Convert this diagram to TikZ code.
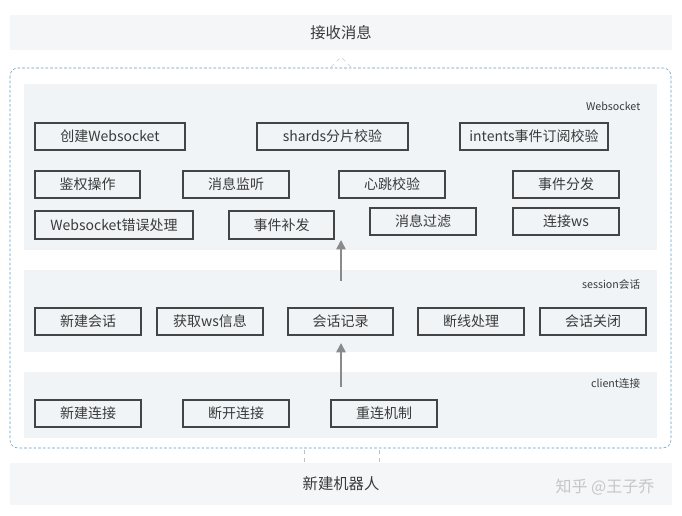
\documentclass[tikz,border=0pt]{standalone}
\usepackage{fontspec}
\setmainfont{Noto Sans CJK SC}
\usetikzlibrary{arrows.meta}
\begin{document}
\begin{tikzpicture}[x=0.75pt,y=-0.75pt,
  bx/.style={draw=boxline,line width=0.8pt,fill=panelblue,font=\fontsize{10.5}{12}\selectfont,text=txt,inner sep=0pt},
  lbl/.style={font=\fontsize{8}{10}\selectfont,text=txt,anchor=east},
  arr/.style={draw=arrgray,line width=1.2pt,-{Triangle[length=7pt,width=7pt]}}]
\definecolor{bandgray}{HTML}{F4F6F8}
\definecolor{panelblue}{HTML}{F0F4F7}
\definecolor{boxline}{HTML}{444444}
\definecolor{txt}{HTML}{3A3A3A}
\definecolor{dashc}{HTML}{5E9EC4}
\definecolor{arrgray}{HTML}{8A8A8A}
\useasboundingbox (0,0) rectangle (682,515);
\fill[white] (0,0) rectangle (682,515);
% top band
\fill[bandgray] (10,15) rectangle (672,50);
\node[font=\fontsize{11.5}{13}\selectfont,text=txt] (top) at (341,33) {接收消息};
\draw[gray!40,dashed] (331,67) -- (341,57) -- (351,67);
% outer dashed
\draw[dashc,dashed,dash pattern=on 2pt off 1.5pt,rounded corners=6pt] (10,68) rectangle (671,448);
% panels
\fill[panelblue] (24,84) rectangle (657,250);
\node[lbl] (lw) at (645,106) {Websocket};
\fill[panelblue] (24,270) rectangle (657,352);
\node[lbl] (ls) at (645,284) {session会话};
\fill[panelblue] (24,372) rectangle (657,438);
\node[lbl] (lc) at (645,383) {client连接};
% boxes
\newcommand{\bxx}[6]{\node[bx,minimum width=#3*0.75pt-#2*0.75pt,minimum height=#5*0.75pt-#4*0.75pt] (#6) at ({(#2+#3)/2},{(#4+#5)/2})}
\bxx{}{35}{185}{123}{150}{b1}{创建Websocket};
\bxx{}{257}{408}{123}{150}{b2}{shards分片校验};
\bxx{}{460}{608}{123}{150}{b3}{intents事件订阅校验};
\bxx{}{35}{140}{171}{198}{b4}{鉴权操作};
\bxx{}{183}{289}{171}{198}{b5}{消息监听};
\bxx{}{339}{445}{171}{198}{b6}{心跳校验};
\bxx{}{513}{619}{171}{198}{b7}{事件分发};
\bxx{}{35}{193}{211}{239}{b8}{Websocket错误处理};
\bxx{}{229}{334}{211}{239}{b9}{事件补发};
\bxx{}{370}{476}{208}{235}{b10}{消息过滤};
\bxx{}{513}{619}{208}{235}{b11}{连接ws};
\bxx{}{35}{141}{308}{335}{s1}{新建会话};
\bxx{}{157}{263}{308}{335}{s2}{获取ws信息};
\bxx{}{288}{393}{308}{335}{s3}{会话记录};
\bxx{}{418}{524}{308}{335}{s4}{断线处理};
\bxx{}{540}{646}{308}{335}{s5}{会话关闭};
\bxx{}{35}{141}{400}{427}{c1}{新建连接};
\bxx{}{183}{289}{400}{427}{c2}{断开连接};
\bxx{}{331}{437}{400}{427}{c3}{重连机制};
% arrows
\coordinate (a1s) at (341,281);
\coordinate (a1e) at (341,240);
\coordinate (a2s) at (341,387);
\coordinate (a2e) at (341,343);
\draw[arr] (a1s) -- (a1e);
\draw[arr] (a2s) -- (a2e);
% bottom
\draw[gray!50,dashed] (304,450) -- (304,463);
\draw[gray!50,dashed] (379,450) -- (379,463);
\fill[bandgray] (10,463) rectangle (672,505);
\node[font=\fontsize{11.5}{13}\selectfont,text=txt] (bot) at (341,484) {新建机器人};
\node[font=\fontsize{12}{14}\selectfont,text=gray!45] (wm) at (605,487) {知乎 @王子乔};
\end{tikzpicture}
\end{document}
